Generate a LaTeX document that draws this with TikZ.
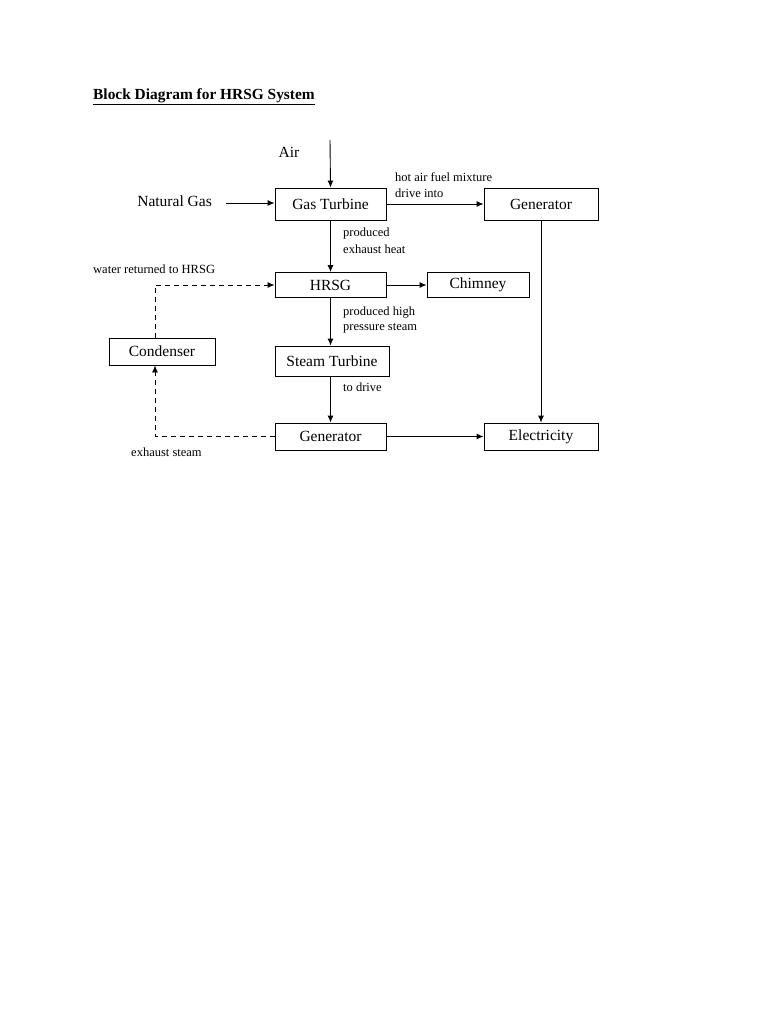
\documentclass[tikz,border=0pt]{standalone}
\usepackage{fontspec}
\setmainfont{Liberation Serif}
\usetikzlibrary{arrows.meta}
\begin{document}
\begin{tikzpicture}[x=1pt,y=-1pt,
  box/.style={draw,line width=0.9pt,inner sep=0pt,font=\fontsize{15.5}{18}\selectfont},
  lab/.style={font=\fontsize{12.5}{15}\selectfont,anchor=west,inner sep=0pt},
  arr/.style={-{Latex[length=7pt,width=6pt]},line width=0.9pt},
  dsh/.style={arr,dashed,dash pattern=on 5pt off 4pt}]
\useasboundingbox (0,0) rectangle (768,1024);
\node[anchor=west,inner sep=0pt,font=\fontsize{15.4}{18}\selectfont\bfseries] (title) at (93,97) {\underline{Block Diagram for HRSG System}};
\node[box,minimum width=111pt,minimum height=32pt] (gt) at (330.5,204) {Gas Turbine};
\node[box,minimum width=114pt,minimum height=32pt] (g1) at (541,204) {Generator};
\node[box,minimum width=111pt,minimum height=25pt] (hrsg) at (330.5,285) {HRSG};
\node[box,minimum width=102pt,minimum height=25pt] (ch) at (478,285) {Chimney};
\node[box,minimum width=106pt,minimum height=27pt] (cond) at (162,351.5) {Condenser};
\node[box,minimum width=114pt,minimum height=30pt] (st) at (332,361) {Steam Turbine};
\node[box,minimum width=111pt,minimum height=27pt] (g2) at (330.5,436.5) {Generator};
\node[box,minimum width=114pt,minimum height=27pt] (el) at (541,436.5) {Electricity};
\node[inner sep=0pt,font=\fontsize{15.5}{18}\selectfont] (air) at (289,152) {Air};
\node[inner sep=0pt,anchor=east,font=\fontsize{15.5}{18}\selectfont] (ng) at (212,201) {Natural Gas};
\coordinate (airs) at (330,140);
\coordinate (ngs) at (226,203);
\draw[arr] (airs) -- (gt.north);
\draw[arr] (ngs) -- (ngs -| gt.west);
\draw[arr] (gt.east) -- (g1.west);
\draw[arr] (gt.south) -- (hrsg.north);
\draw[arr] (hrsg.east) -- (ch.west);
\draw[arr] (hrsg.south) -- (hrsg.south |- st.north);
\draw[arr] (st.south -| g2.north) -- (g2.north);
\draw[arr] (g1.south) -- (el.north);
\draw[arr] (g2.east) -- (el.west);
\draw[dsh] (cond.north -| 155,0) |- (hrsg.west);
\draw[dsh] (g2.west) -| (cond.south -| 155,0);
\node[lab] (l1) at (395,177) {hot air fuel mixture};
\node[lab] (l2) at (395,193) {drive into};
\node[lab] (l3) at (343,233) {produced};
\node[lab] (l4) at (343,249) {exhaust heat};
\node[lab] (l5) at (93,269) {water returned to HRSG};
\node[lab] (l6) at (343,313) {produced high};
\node[lab] (l7) at (343,328) {pressure steam};
\node[lab] (l8) at (343,387) {to drive};
\node[lab] (l9) at (131,452) {exhaust steam};
\end{tikzpicture}
\end{document}
